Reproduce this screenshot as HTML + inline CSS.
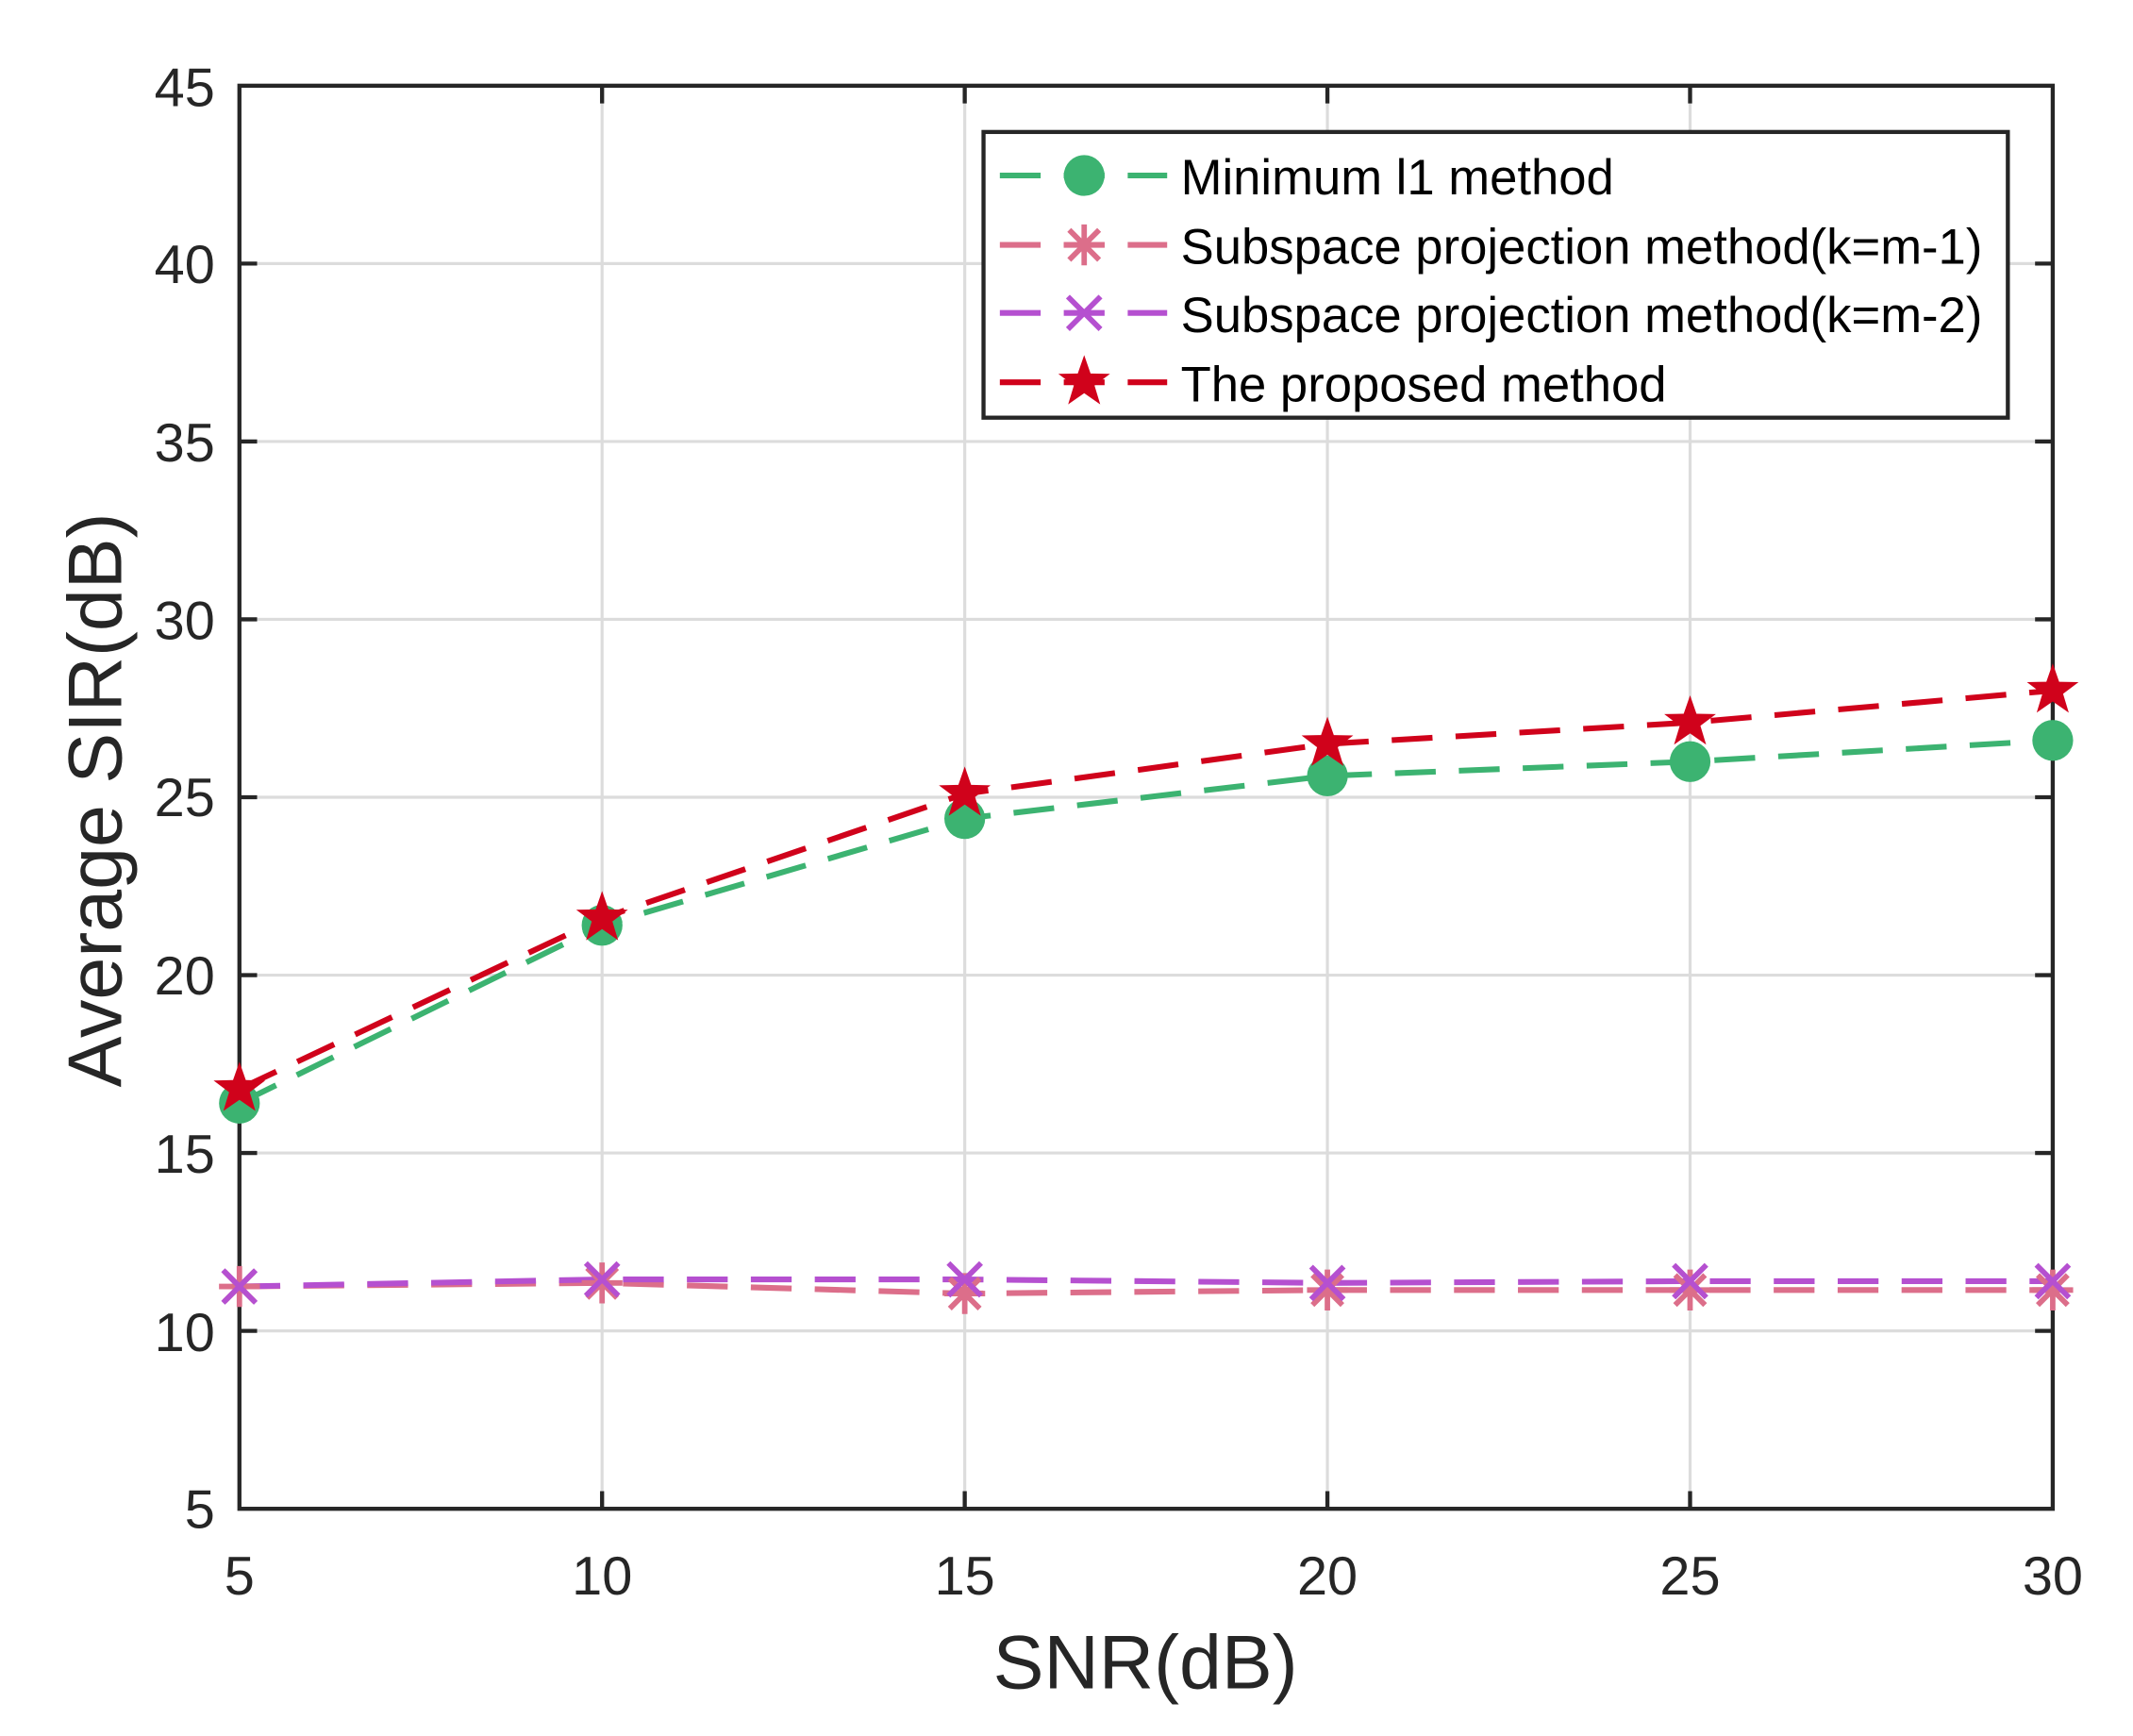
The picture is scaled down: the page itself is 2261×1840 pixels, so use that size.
<!DOCTYPE html>
<html><head><meta charset="utf-8"><style>html,body{margin:0;padding:0;background:#fff}svg{display:block}</style></head>
<body>
<svg width="2261" height="1840" viewBox="0 0 1568 1276" preserveAspectRatio="none" xmlns="http://www.w3.org/2000/svg" font-family="Liberation Sans, sans-serif">
<defs>
<path id="star" d="M0,-20 L4.7,-6.5 L19,-6.2 L7.6,2.4 L11.8,16.2 L0,8 L-11.8,16.2 L-7.6,2.4 L-19,-6.2 L-4.7,-6.5 Z"/>
</defs>
<rect width="1568" height="1276" fill="#fff"/>
<g stroke="#dcdcdc" stroke-width="2.2">
<line x1="442.6" y1="63" x2="442.6" y2="1109"/><line x1="709.2" y1="63" x2="709.2" y2="1109"/><line x1="975.8" y1="63" x2="975.8" y2="1109"/><line x1="1242.4" y1="63" x2="1242.4" y2="1109"/>
<line x1="176" y1="193.75" x2="1509" y2="193.75"/><line x1="176" y1="324.5" x2="1509" y2="324.5"/><line x1="176" y1="455.25" x2="1509" y2="455.25"/><line x1="176" y1="586" x2="1509" y2="586"/><line x1="176" y1="716.75" x2="1509" y2="716.75"/><line x1="176" y1="847.5" x2="1509" y2="847.5"/><line x1="176" y1="978.25" x2="1509" y2="978.25"/>
</g>
<g stroke="#262626" stroke-width="3">
<rect x="176" y="63" width="1333" height="1046" fill="none"/>
<path d="M442.6,63v13M709.2,63v13M975.8,63v13M1242.4,63v13M442.6,1109v-13M709.2,1109v-13M975.8,1109v-13M1242.4,1109v-13M176,193.75h13M176,324.5h13M176,455.25h13M176,586h13M176,716.75h13M176,847.5h13M176,978.25h13M1509,193.75h-13M1509,324.5h-13M1509,455.25h-13M1509,586h-13M1509,716.75h-13M1509,847.5h-13M1509,978.25h-13"/>
</g>
<g font-size="40" fill="#262626" text-anchor="end">
<text x="158" y="78">45</text><text x="158" y="208">40</text><text x="158" y="339">35</text><text x="158" y="470">30</text><text x="158" y="600">25</text><text x="158" y="731">20</text><text x="158" y="862">15</text><text x="158" y="993">10</text><text x="158" y="1123">5</text>
</g>
<g font-size="40" fill="#262626" text-anchor="middle">
<text x="176" y="1172">5</text><text x="442.6" y="1172">10</text><text x="709.2" y="1172">15</text><text x="975.8" y="1172">20</text><text x="1242.4" y="1172">25</text><text x="1509" y="1172">30</text>
</g>
<text x="842" y="1241" font-size="56" fill="#262626" text-anchor="middle">SNR(dB)</text>
<text transform="translate(89,588) rotate(-90)" font-size="56" fill="#262626" text-anchor="middle">Average SIR(dB)</text>
<g fill="none" stroke-width="4.2" stroke-dasharray="30,17">
<polyline stroke="#dc6e8a" points="176,945.6 442.6,943 709.2,950.8 975.8,948.2 1242.4,948.2 1509,948.2"/>
<polyline stroke="#b550d0" points="176,945.6 442.6,940.4 709.2,940.4 975.8,943 1242.4,941.7 1509,941.7"/>
<polyline stroke="#3cb371" points="176,810.9 442.6,680.1 709.2,601.7 975.8,570.3 1242.4,559.8 1509,544.2"/>
<polyline stroke="#d0021b" points="176,800.4 442.6,674.9 709.2,583.4 975.8,546.8 1242.4,531.1 1509,507.6"/>
</g>
<g stroke="#dc6e8a" stroke-width="4">
<path d="M176,930.6v30M161,945.6h30M165,934.6l22,22M165,956.6l22,-22"/>
<path d="M442.6,928v30M427.6,943h30M431.6,932l22,22M431.6,954l22,-22"/>
<path d="M709.2,935.8v30M694.2,950.8h30M698.2,939.8l22,22M698.2,961.8l22,-22"/>
<path d="M975.8,933.2v30M960.8,948.2h30M964.8,937.2l22,22M964.8,959.2l22,-22"/>
<path d="M1242.4,933.2v30M1227.4,948.2h30M1231.4,937.2l22,22M1231.4,959.2l22,-22"/>
<path d="M1509,933.2v30M1494,948.2h30M1498,937.2l22,22M1498,959.2l22,-22"/>
</g>
<g stroke="#b550d0" stroke-width="4">
<path d="M164,933.6l24,24M164,957.6l24,-24"/>
<path d="M430.6,928.4l24,24M430.6,952.4l24,-24"/>
<path d="M697.2,928.4l24,24M697.2,952.4l24,-24"/>
<path d="M963.8,931l24,24M963.8,955l24,-24"/>
<path d="M1230.4,929.7l24,24M1230.4,953.7l24,-24"/>
<path d="M1497,929.7l24,24M1497,953.7l24,-24"/>
</g>
<g fill="#3cb371">
<circle cx="176" cy="810.9" r="15"/><circle cx="442.6" cy="680.1" r="15"/><circle cx="709.2" cy="601.7" r="15"/><circle cx="975.8" cy="570.3" r="15"/><circle cx="1242.4" cy="559.8" r="15"/><circle cx="1509" cy="544.2" r="15"/>
</g>
<g fill="#d0021b">
<use href="#star" x="176" y="800.4"/><use href="#star" x="442.6" y="674.9"/><use href="#star" x="709.2" y="583.4"/><use href="#star" x="975.8" y="546.8"/><use href="#star" x="1242.4" y="531.1"/><use href="#star" x="1509" y="507.6"/>
</g>
<rect x="723" y="97" width="753" height="210" fill="#fff" stroke="#262626" stroke-width="3"/>
<g fill="none" stroke-width="4.2" stroke-dasharray="30,17">
<line x1="735" y1="129" x2="858" y2="129" stroke="#3cb371"/>
<line x1="735" y1="180" x2="858" y2="180" stroke="#dc6e8a"/>
<line x1="735" y1="230" x2="858" y2="230" stroke="#b550d0"/>
<line x1="735" y1="281" x2="858" y2="281" stroke="#d0021b"/>
</g>
<circle cx="797" cy="129" r="15" fill="#3cb371"/>
<path d="M797,165v30M782,180h30M786,169l22,22M786,191l22,-22" stroke="#dc6e8a" stroke-width="4"/>
<path d="M785,218l24,24M785,242l24,-24" stroke="#b550d0" stroke-width="4"/>
<use href="#star" x="797" y="281" fill="#d0021b"/>
<g font-size="36.5" fill="#000">
<text x="868" y="143">Minimum l1 method</text>
<text x="868" y="194">Subspace projection method(k=m-1)</text>
<text x="868" y="244">Subspace projection method(k=m-2)</text>
<text x="868" y="295">The proposed method</text>
</g>
</svg>
</body></html>
